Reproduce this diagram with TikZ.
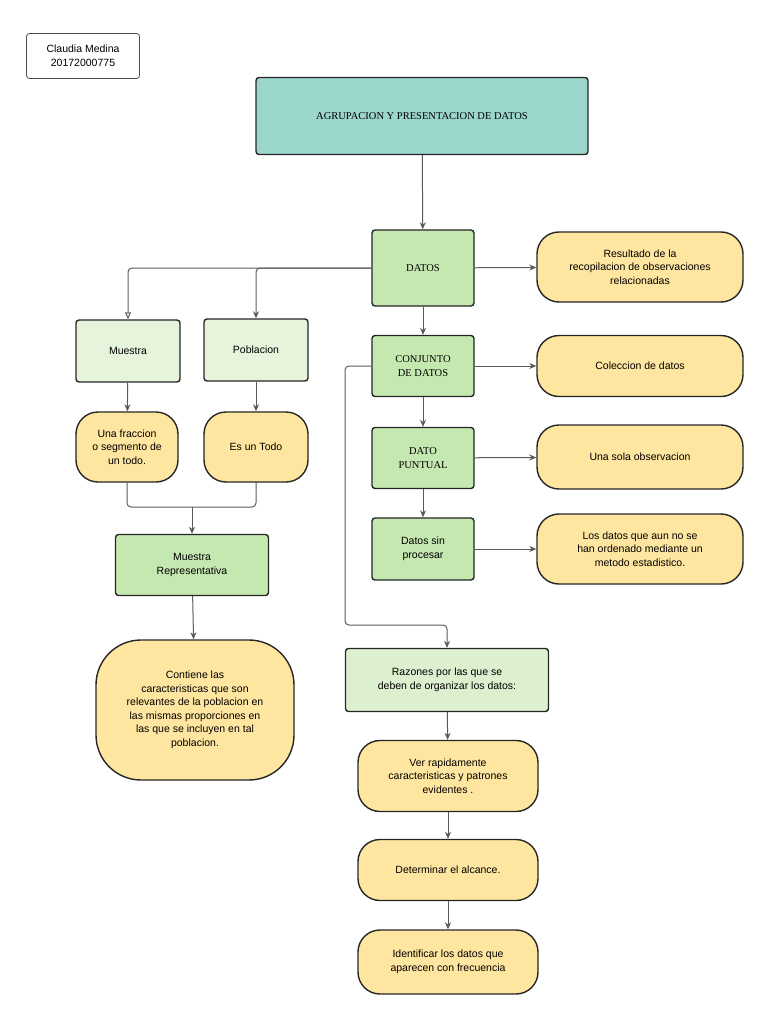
\documentclass[tikz,border=0pt]{standalone}
\usepackage{fontspec}
\setmainfont{Liberation Sans}
\newfontfamily\serif{Liberation Serif}
\usetikzlibrary{arrows.meta}
\definecolor{teal}{HTML}{9AD6CC}
\definecolor{green}{HTML}{C5E8B0}
\definecolor{lgreen}{HTML}{E6F4DC}
\definecolor{yell}{HTML}{FFE6A0}
\definecolor{line}{HTML}{5A5A5A}
\begin{document}
\begin{tikzpicture}[x=1pt,y=-1pt,font=\fontsize{10.5}{13.5}\selectfont,
  box/.style={draw=black!85,line width=1.4pt,rounded corners=3pt,align=center,inner sep=1pt},
  dark/.style={box,fill=green},
  light/.style={box,fill=lgreen},
  oval/.style={draw=black!85,line width=1.4pt,rounded corners=22pt,fill=yell,align=center,inner sep=1pt},
  arrow/.style={draw=line,line width=1pt,-{Stealth[length=7pt,width=6pt]},rounded corners=4pt},
  link/.style={draw=line,line width=1pt,rounded corners=4pt}]
\useasboundingbox (0,0) rectangle (768,1024);

\node[draw=black!70,line width=0.8pt,rounded corners=3pt,align=center,minimum width=113,minimum height=45,inner sep=0pt] (autor) at (83,56) {Claudia Medina\\20172000775};
\node[box,fill=teal,minimum width=332,minimum height=77] (titulo) at (422,116) {\serif AGRUPACION Y PRESENTACION DE DATOS};

% columna central
\node[dark,minimum width=102,minimum height=76] (datos) at (423,268) {\serif DATOS};
\node[dark,minimum width=102,minimum height=61] (conjunto) at (423,366) {\serif CONJUNTO\\\serif DE DATOS};
\node[dark,minimum width=102,minimum height=61] (puntual) at (423,458) {\serif DATO\\\serif PUNTUAL};
\node[dark,minimum width=102,minimum height=62] (sinproc) at (423,549) {Datos sin\\procesar};

% definiciones
\node[oval,minimum width=206,minimum height=70] (resultado) at (640,267) {Resultado de la\\recopilacion de observaciones\\relacionadas};
\node[oval,minimum width=206,minimum height=61] (coleccion) at (640,366) {Coleccion de datos};
\node[oval,minimum width=206,minimum height=64] (sola) at (640,457) {Una sola observacion};
\node[oval,minimum width=206,minimum height=70] (noorden) at (640,549) {Los datos que aun no se\\han ordenado mediante un\\metodo estadistico.};

% rama izquierda
\node[light,minimum width=104,minimum height=62] (muestra) at (128,351) {Muestra};
\node[light,minimum width=104,minimum height=62] (poblacion) at (256,350) {Poblacion};
\node[oval,minimum width=102,minimum height=70] (fraccion) at (127,447) {Una fraccion\\o segmento de\\un todo.};
\node[oval,minimum width=104,minimum height=70] (todo) at (256,447) {Es un Todo};
\node[dark,minimum width=153,minimum height=61] (represent) at (192,565) {Muestra\\Representativa};
\node[oval,rounded corners=45pt,minimum width=198,minimum height=140] (contiene) at (195,710) {Contiene las\\caracteristicas que son\\relevantes de la poblacion en\\las mismas proporciones en\\las que se incluyen en tal\\poblacion.};

% razones
\node[light,fill=lgreen!70!green,minimum width=203,minimum height=63] (razones) at (447,680) {Razones por las que se\\deben de organizar los datos:};
\node[oval,minimum width=180,minimum height=71] (rapido) at (448,776) {Ver rapidamente\\caracteristicas y patrones\\evidentes .};
\node[oval,minimum width=180,minimum height=61] (alcance) at (448,870) {Determinar el alcance.};
\node[oval,minimum width=180,minimum height=64] (frecuencia) at (448,962) {Identificar los datos que\\aparecen con frecuencia};

\coordinate (union) at (192,507);

\draw[arrow] (titulo) -- (datos);
\draw[arrow] (datos) -- (conjunto);
\draw[arrow] (conjunto) -- (puntual);
\draw[arrow] (puntual) -- (sinproc);
\draw[arrow] (datos) -- (resultado);
\draw[arrow] (conjunto) -- (coleccion);
\draw[arrow] (puntual) -- (sola);
\draw[arrow] (sinproc) -- (noorden);
\draw[link,-{Triangle[open,length=7pt,width=6pt]}] (datos.west) -| (muestra.north);
\draw[arrow] (datos.west) -| (poblacion.north);
\draw[arrow] (muestra) -- (fraccion);
\draw[arrow] (poblacion) -- (todo);
\draw[link] (fraccion.south) |- (union);
\draw[link] (todo.south) |- (union);
\draw[arrow] (union) -- (represent);
\draw[arrow] (represent) -- (contiene);
\draw[arrow] (conjunto.west) -- (345,366) -- (345,625) -| (razones.north);
\draw[arrow] (razones) -- (rapido);
\draw[arrow] (rapido) -- (alcance);
\draw[arrow] (alcance) -- (frecuencia);
\end{tikzpicture}
\end{document}
